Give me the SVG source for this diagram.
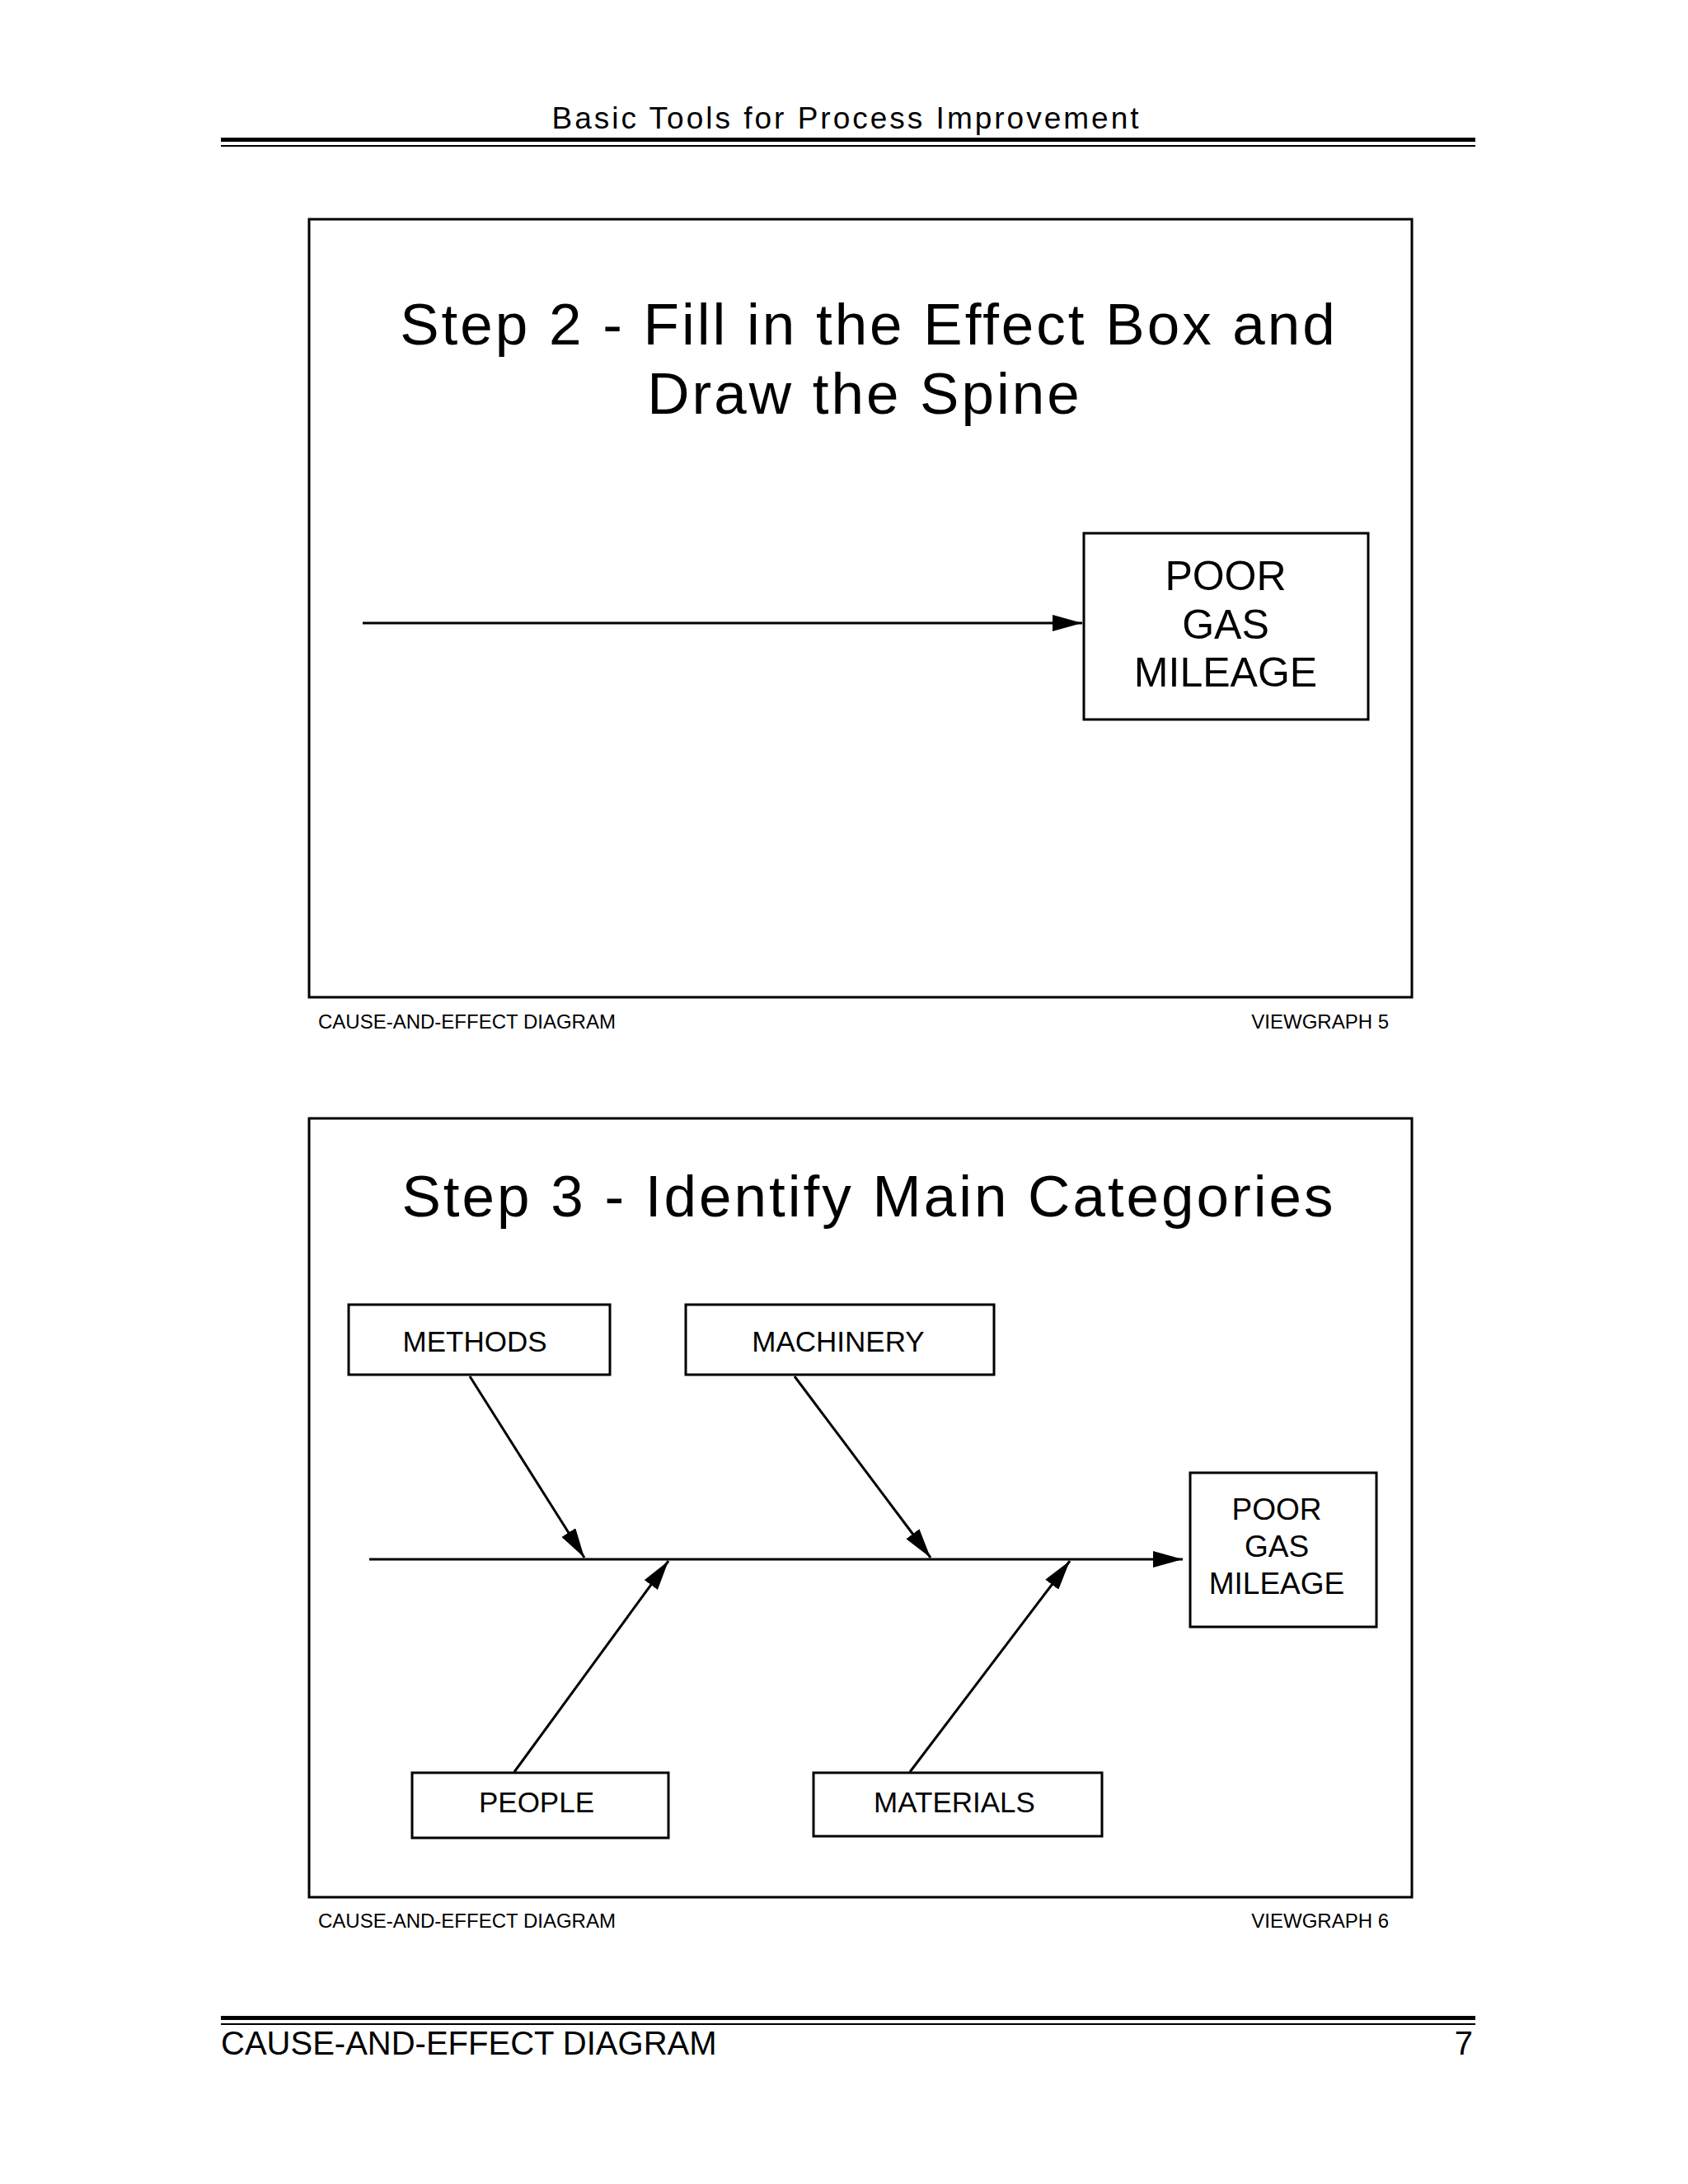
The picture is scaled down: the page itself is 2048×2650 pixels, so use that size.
<svg xmlns="http://www.w3.org/2000/svg" width="2048" height="2650" viewBox="0 0 2048 2650">
<style>
text{font-family:"Liberation Sans",Arial,sans-serif;fill:#000}
.box{fill:#fff;stroke:#000;stroke-width:3}
.ln{stroke:#000;stroke-width:3;fill:none}
.c{text-anchor:middle}
</style>
<defs>
<marker id="b" markerWidth="36" markerHeight="20" refX="36" refY="10" orient="auto" markerUnits="userSpaceOnUse" viewBox="0 0 36 20"><path d="M0,0L36,10L0,20z" fill="#000"/></marker></defs>
<rect width="2048" height="2650" fill="#fff"/>
<text x="1027" y="156" class="c" font-size="37" letter-spacing="3">Basic Tools for Process Improvement</text>
<rect x="268" y="167" width="1522" height="5" fill="#000"/>
<rect x="268" y="176" width="1522" height="2" fill="#000"/>
<g id="slide5">
<rect class="box" x="375" y="266" width="1338" height="944"/>
<text x="1054" y="418" class="c" font-size="71" letter-spacing="3">Step 2 - Fill in the Effect Box and</text>
<text x="1049" y="502" class="c" font-size="71" letter-spacing="3">Draw the Spine</text>
<text x="386" y="1248" font-size="24">CAUSE-AND-EFFECT DIAGRAM</text>
<text x="1685" y="1248" font-size="24" text-anchor="end">VIEWGRAPH 5</text>
</g>
<g id="effect1"><rect class="box" x="1315" y="647" width="345" height="226"/>
<text x="1487" y="716" class="c" font-size="50">POOR</text>
<text x="1487" y="775" class="c" font-size="50">GAS</text>
<text x="1487" y="833" class="c" font-size="50">MILEAGE</text></g>
<g id="slide6">
<rect class="box" x="375" y="1357" width="1338" height="945"/>
<text x="1054" y="1476" class="c" font-size="71" letter-spacing="3">Step 3 - Identify Main Categories</text>
<text x="386" y="2339" font-size="24">CAUSE-AND-EFFECT DIAGRAM</text>
<text x="1685" y="2339" font-size="24" text-anchor="end">VIEWGRAPH 6</text>
</g>
<g id="methods"><rect class="box" x="423" y="1583" width="317" height="85"/><text x="576" y="1640" class="c" font-size="35">METHODS</text></g>
<g id="machinery"><rect class="box" x="832" y="1583" width="374" height="85"/><text x="1017" y="1640" class="c" font-size="35">MACHINERY</text></g>
<g id="people"><rect class="box" x="500" y="2151" width="311" height="79"/><text x="651" y="2199" class="c" font-size="35">PEOPLE</text></g>
<g id="materials"><rect class="box" x="987" y="2151" width="350" height="77"/><text x="1158" y="2199" class="c" font-size="35">MATERIALS</text></g>
<g id="effect2"><rect class="box" x="1444" y="1787" width="226" height="187"/>
<text x="1549" y="1844" class="c" font-size="37">POOR</text>
<text x="1549" y="1889" class="c" font-size="37">GAS</text>
<text x="1549" y="1934" class="c" font-size="37">MILEAGE</text></g>
<g id="connectors">
<line class="ln" x1="440" y1="756" x2="1313" y2="756" marker-end="url(#b)"/>
<line class="ln" x1="448" y1="1892" x2="1435" y2="1892" marker-end="url(#b)"/>
<line class="ln" x1="570" y1="1670" x2="709" y2="1890" marker-end="url(#b)"/>
<line class="ln" x1="964" y1="1670" x2="1129" y2="1890" marker-end="url(#b)"/>
<line class="ln" x1="624" y1="2150" x2="811" y2="1894" marker-end="url(#b)"/>
<line class="ln" x1="1104" y1="2150" x2="1298" y2="1894" marker-end="url(#b)"/>
</g>
<rect x="268" y="2446" width="1522" height="5" fill="#000"/>
<rect x="268" y="2455" width="1522" height="2" fill="#000"/>
<text x="268" y="2493" font-size="40">CAUSE-AND-EFFECT DIAGRAM</text>
<text x="1787" y="2493" font-size="40" text-anchor="end">7</text>
</svg>
